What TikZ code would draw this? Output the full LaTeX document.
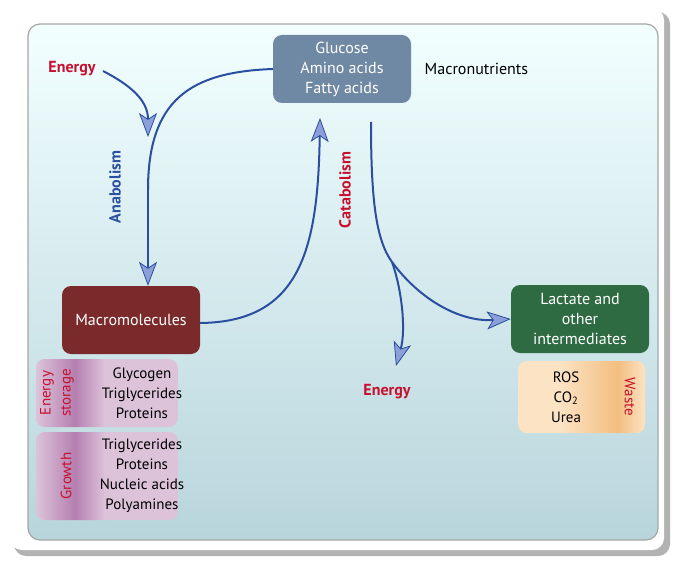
\documentclass[tikz,border=0pt]{standalone}
\usepackage{fontspec}
\setmainfont{PT Sans}
\usetikzlibrary{arrows.meta, positioning}
\definecolor{flow}{HTML}{2B4FA0}
\definecolor{tipfill}{HTML}{8C9FD8}
\definecolor{energyred}{HTML}{C8102E}
\definecolor{nutrient}{HTML}{6F88A3}
\definecolor{macro}{HTML}{7A2A2A}
\definecolor{lactate}{HTML}{2E6B42}
\definecolor{pinkL}{HTML}{DCC3DA}
\definecolor{pinkD}{HTML}{B57FB0}
\definecolor{peachL}{HTML}{FCE3C4}
\definecolor{peachD}{HTML}{F3BE80}
\newcommand{\bigfont}{\fontsize{16}{20}\selectfont}
\newcommand{\midfont}{\fontsize{15}{20}\selectfont}
\tikzset{
  flowline/.style={draw=flow, line width=2pt, -{Stealth[length=24pt, width=18pt, inset=6pt, fill=tipfill, line width=0.8pt]}},
  plainflow/.style={draw=flow, line width=2pt},
  box/.style={rounded corners=9pt, minimum width=138pt, minimum height=68pt, align=center, text=white, font=\bigfont},
  red label/.style={text=energyred, font=\bigfont\bfseries},
  panel text/.style={align=center, font=\midfont, inner sep=0pt}
}
\begin{document}
\begin{tikzpicture}[x=1pt, y=-1pt]
  \useasboundingbox (0,0) rectangle (685,567);
  % frame
  \fill[gray!60, rounded corners=12pt] (14,12) rectangle (670,556);
  \fill[white, rounded corners=12pt] (10,8) rectangle (664,550);
  \shade[rounded corners=12pt, top color=white!95!cyan, bottom color={rgb,255:red,184;green,213;blue,220}, draw=gray!70, line width=1.2pt] (28,24) rectangle (658,540);

  % main boxes
  \node[box, fill=nutrient] (nutrients) at (342,69) {Glucose\\Amino acids\\Fatty acids};
  \node[font=\bigfont, right=10pt of nutrients] (macronutrients) {Macronutrients};
  \node[box, fill=macro] (macromol) at (131,320) {Macromolecules};
  \node[box, fill=lactate] (lactate) at (580,319) {Lactate and\\other\\intermediates};

  % panels
  \begin{scope}
    \clip[rounded corners=9pt] (36,359) rectangle (178,427);
    \fill[pinkL] (36,359) rectangle (178,427);
    \shade[left color=pinkL, right color=pinkD] (36,359) rectangle (75,427);
    \shade[left color=pinkD, right color=pinkL] (75,359) rectangle (105,427);
  \end{scope}
  \begin{scope}
    \clip[rounded corners=9pt] (36,432) rectangle (178,520);
    \fill[pinkL] (36,432) rectangle (178,520);
    \shade[left color=pinkL, right color=pinkD] (36,432) rectangle (75,520);
    \shade[left color=pinkD, right color=pinkL] (75,432) rectangle (105,520);
  \end{scope}
  \begin{scope}
    \clip[rounded corners=9pt] (518,361) rectangle (645,433);
    \fill[peachL] (518,361) rectangle (645,433);
    \shade[left color=peachL, right color=peachD] (560,361) rectangle (618,433);
    \shade[left color=peachD, right color=peachL] (618,361) rectangle (645,433);
  \end{scope}
  \node[panel text, text=energyred, rotate=90] (storage) at (57,393) {Energy\\storage};
  \node[panel text] (storagelist) at (142,393) {Glycogen\\Triglycerides\\Proteins};
  \node[panel text, text=energyred, rotate=90] (growth) at (66,476) {Growth};
  \node[panel text] (growthlist) at (142,476) {Triglycerides\\Proteins\\Nucleic acids\\Polyamines};
  \node[panel text] (wastelist) at (566,397) {ROS\\CO\textsubscript{2}\\Urea};
  \node[panel text, text=energyred, rotate=-90] (waste) at (630,397) {Waste};

  % labels
  \node[red label] (energyin) at (72,69) {Energy};
  \node[red label] (energyout) at (387,392) {Energy};
  \node[text=flow, font=\bigfont\bfseries, rotate=90] (anabolism) at (115,187) {Anabolism};
  \node[text=energyred, font=\bigfont\bfseries, rotate=90] (catabolism) at (345,190) {Catabolism};

  \coordinate (split) at (392,262);
  \coordinate (catstart) at (371,122);
  \coordinate (cattip) at (320,118);

  % anabolism
  \draw[flowline] (energyin.east) ++(4,2) .. controls (130,85) and (148,100) .. (148,137);
  \draw[plainflow] (nutrients.west) .. controls (190,72) and (148,100) .. (148,190);
  \draw[flowline] (148,185) -- (macromol.north -| 148,0);
  % catabolism
  \draw[flowline] (macromol.east) ++(0,3) .. controls (300,322) and (318,250) .. (cattip);
  \draw[plainflow] (catstart) .. controls (371,200) and (376,240) .. (split);
  \draw[flowline] (split) .. controls (402,290) and (406,330) .. (396,366);
  \draw[flowline] (split) .. controls (420,300) and (460,322) .. (lactate.west);
\end{tikzpicture}
\end{document}
